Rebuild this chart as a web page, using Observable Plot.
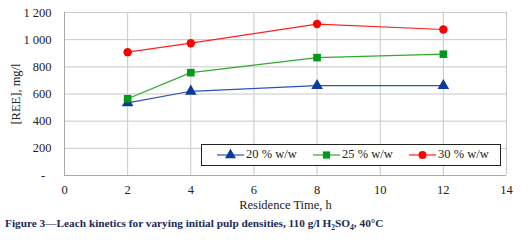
<!DOCTYPE html>
<html><head><meta charset="utf-8">
<script src="https://cdn.jsdelivr.net/npm/d3@7"></script>
<script src="https://cdn.jsdelivr.net/npm/@observablehq/plot@0.6"></script>
<style>
body{margin:0;background:#fff;font-family:"Liberation Serif",serif;}
#wrap{position:relative;width:528px;height:244px;}
#legend{position:absolute;left:201px;top:144px;width:298px;height:20px;border:1px solid #222;background:#fff;font-size:12.5px;color:#222;}
.item{position:absolute;top:2px;display:flex;align-items:center;white-space:nowrap;}
.item svg{margin-right:2px;}
#caption{position:absolute;left:5px;top:217px;font-size:11.3px;font-weight:bold;color:#1d2a55;white-space:nowrap;}
</style></head><body>
<div id="wrap"><div id="chart"></div><div id="legend"></div><div id="caption">Figure 3—Leach kinetics for varying initial pulp densities, 110 g/l H<sub style="font-size:7.5px">2</sub>SO<sub style="font-size:7.5px">4</sub>, 40°C</div></div>
<script>
const times = [2, 4, 8, 12];
const series = ["20 % w/w", "25 % w/w", "30 % w/w"];
const ree20 = [535, 620, 662, 662];
const ree25 = [565, 757, 868, 893];
const ree30 = [908, 974, 1115, 1075];
const lineColors = ["#2a52b8", "#2eaa2e", "#ff2020"];
const markColors = ["#0a3a9a", "#009a1a", "#ff0000"];
const symbols = ["triangle", "square", "circle"];
const xTicks = [0, 2, 4, 6, 8, 10, 12, 14];
const yTicks = [0, 200, 400, 600, 800, 1000, 1200];

const values = [ree20, ree25, ree30];
const data = [];
series.forEach((s, i) => times.forEach((t, j) => data.push({series: s, t, v: values[i][j]})));

const fmt = d => d === 0 ? "-  " : d3.format(",")(d).replace(",", " ");

const chart = Plot.plot({
  width: 528, height: 212,
  marginLeft: 64, marginRight: 22, marginTop: 12, marginBottom: 37,
  style: {fontFamily: "Liberation Serif, serif", fontSize: "12.5px", color: "#222"},
  x: {domain: [0, 14], ticks: xTicks, label: null},
  y: {domain: [0, 1200], ticks: yTicks, label: null},
  color: {domain: series, range: lineColors},
  marks: [
    Plot.gridX(xTicks.slice(1), {stroke: "#c8c8c8", strokeOpacity: 1}),
    Plot.gridY(yTicks.slice(1), {stroke: "#c8c8c8", strokeOpacity: 1}),
    Plot.ruleX([0], {stroke: "#a8a8a8"}),
    Plot.ruleY([0], {stroke: "#a8a8a8"}),
    Plot.axisX({ticks: xTicks, tickSize: 0, tickPadding: 10, label: "Residence Time, h", labelAnchor: "center", labelArrow: "none", labelOffset: 33, fontSize: 12.5}),
    Plot.axisY({ticks: yTicks, tickSize: 0, tickPadding: 13, tickFormat: fmt, label: "[REE], mg/l", labelAnchor: "center", labelArrow: "none", labelOffset: 53, fontSize: 12.5}),
    Plot.line(data, {x: "t", y: "v", z: "series", stroke: "series", strokeWidth: 1.2}),
    ...series.map((s, i) => Plot.dot(data.filter(d => d.series === s), {x: "t", y: "v", symbol: () => symbols[i], fill: markColors[i], stroke: "none", r: i === 2 ? 4.2 : 4.3}))
  ]
});
document.getElementById("chart").appendChild(chart);

// legend
const lg = document.getElementById("legend");
const positions = [15, 111, 207];
series.forEach((s, i) => {
  const div = document.createElement("div");
  div.className = "item";
  div.style.left = positions[i] + "px";
  const sym = d3.symbol(i === 0 ? d3.symbolTriangle : i === 1 ? d3.symbolSquare : d3.symbolCircle, i === 2 ? 50 : 52)();
  div.innerHTML = `<svg width="27" height="12"><line x1="0" x2="27" y1="6" y2="6" stroke="${lineColors[i]}" stroke-width="1.2"/><path d="${sym}" transform="translate(13.5,6)" fill="${markColors[i]}"/></svg><span>${s}</span>`;
  lg.appendChild(div);
});
</script>
</body></html>
